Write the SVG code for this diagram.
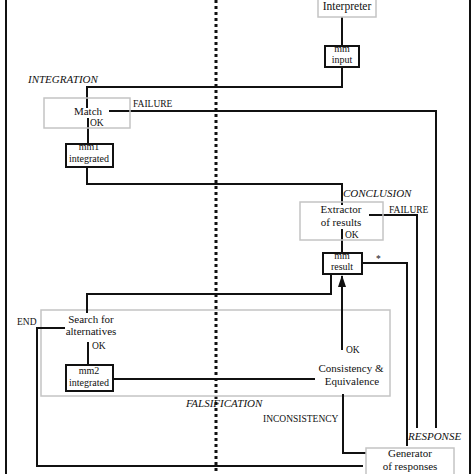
<svg xmlns="http://www.w3.org/2000/svg" width="474" height="474" viewBox="0 0 474 474">
<style>
text{font-family:"Liberation Serif","DejaVu Serif",serif;fill:#111;font-size:11px}
.c{text-anchor:middle}
.s{font-size:10px}
.cap{font-size:9.5px}
.it{font-style:italic;font-size:11px}
.grp{fill:none;stroke:#c4c4c4;stroke-width:1.5}
.mm{fill:#fff;stroke:#111;stroke-width:2}
.ln{fill:none;stroke:#111;stroke-width:2}
</style>
<defs>
<marker id="arr" viewBox="0 0 12 8" refX="11" refY="4" markerWidth="12" markerHeight="8" markerUnits="userSpaceOnUse" orient="auto">
<path d="M0 0 L12 4 L0 8 Z" fill="#111"/>
</marker>
</defs>
<rect width="474" height="474" fill="#fff"/>
<line x1="216" y1="0" x2="216" y2="474" stroke="#111" stroke-width="3" stroke-dasharray="3 3"/>
<g id="boundaries">
<line class="ln" x1="6" y1="0" x2="6" y2="474"/>
<line class="ln" x1="470" y1="0" x2="470" y2="474"/>
</g>
<g id="falsification">
<rect class="grp" x="41" y="310" width="349" height="86"/>
<text class="it" x="186" y="407">FALSIFICATION</text>
</g>
<g id="connectors">
<path class="ln" d="M342 17 V46"/>
<path class="ln" d="M342 67 V87 H87 V108"/>
<path class="ln" d="M88 118 V144"/>
<path class="ln" d="M109 111 H436 V428"/>
<path class="ln" d="M87 167 V184 H342 V205"/>
<path class="ln" d="M342 229 V253"/>
<path class="ln" d="M369 215 H417 V428"/>
<path class="ln" d="M363 263 H407 V446"/>
<path class="ln" d="M331 274 V294 H87 V313"/>
<path class="ln" d="M342 350 V276" marker-end="url(#arr)"/>
<path class="ln" d="M88 342 V365"/>
<path class="ln" d="M113 379 H315"/>
<path class="ln" d="M65 328 H37 V466 H363"/>
<path class="ln" d="M366 453 H343 V394"/>
</g>
<g id="interpreter">
<rect class="grp" x="318" y="-10" width="58" height="27" fill="#fff"/>
<text class="c" x="347" y="10" style="font-size:11.5px">Interpreter</text>
</g>
<g id="mm-input">
<rect class="mm" x="325" y="46" width="34" height="21"/>
<text class="c s" x="342" y="52">mm</text>
<text class="c s" x="342" y="63">input</text>
</g>
<g id="integration">
<text class="it" x="28" y="83">INTEGRATION</text>
</g>
<g id="match">
<rect class="grp" x="44" y="98" width="86" height="30"/>
<text class="c" x="88" y="115">Match</text>
<text class="cap" x="90" y="126">OK</text>
<text class="cap" x="133" y="107">FAILURE</text>
</g>
<g id="mm1">
<rect class="mm" x="66" y="144" width="47" height="23"/>
<text class="c s" x="89" y="150">mm1</text>
<text class="c s" x="89" y="162">integrated</text>
</g>
<g id="extractor">
<text class="it" x="343" y="197">CONCLUSION</text>
<rect class="grp" x="300" y="202" width="83" height="38"/>
<text class="c" x="341" y="213">Extractor</text>
<text class="c" x="341" y="226">of results</text>
<text class="cap" x="345" y="238">OK</text>
<text class="cap" x="389" y="213">FAILURE</text>
</g>
<g id="mm-result">
<rect class="mm" x="323" y="253" width="39" height="21"/>
<text class="c s" x="342" y="259">mm</text>
<text class="c s" x="342" y="270">result</text>
<text class="cap" x="376" y="262">*</text>
</g>
<g id="search">
<text class="c" x="91" y="323">Search for</text>
<text class="c" x="91" y="335">alternatives</text>
<text class="cap" x="92" y="349">OK</text>
<text class="cap" x="17" y="325">END</text>
</g>
<g id="mm2">
<rect class="mm" x="66" y="365" width="47" height="26"/>
<text class="c s" x="89" y="374">mm2</text>
<text class="c s" x="89" y="386">integrated</text>
</g>
<g id="consistency">
<text class="cap" x="346" y="353">OK</text>
<text class="c" x="351" y="372">Consistency &amp;</text>
<text class="c" x="352" y="385">Equivalence</text>
<text class="cap" x="263" y="422">INCONSISTENCY</text>
</g>
<g id="generator">
<text class="it" x="408" y="440">RESPONSE</text>
<rect class="grp" x="366" y="448" width="88" height="40" fill="#fff"/>
<text class="c" x="410" y="457">Generator</text>
<text class="c" x="410" y="470">of responses</text>
</g>
</svg>
